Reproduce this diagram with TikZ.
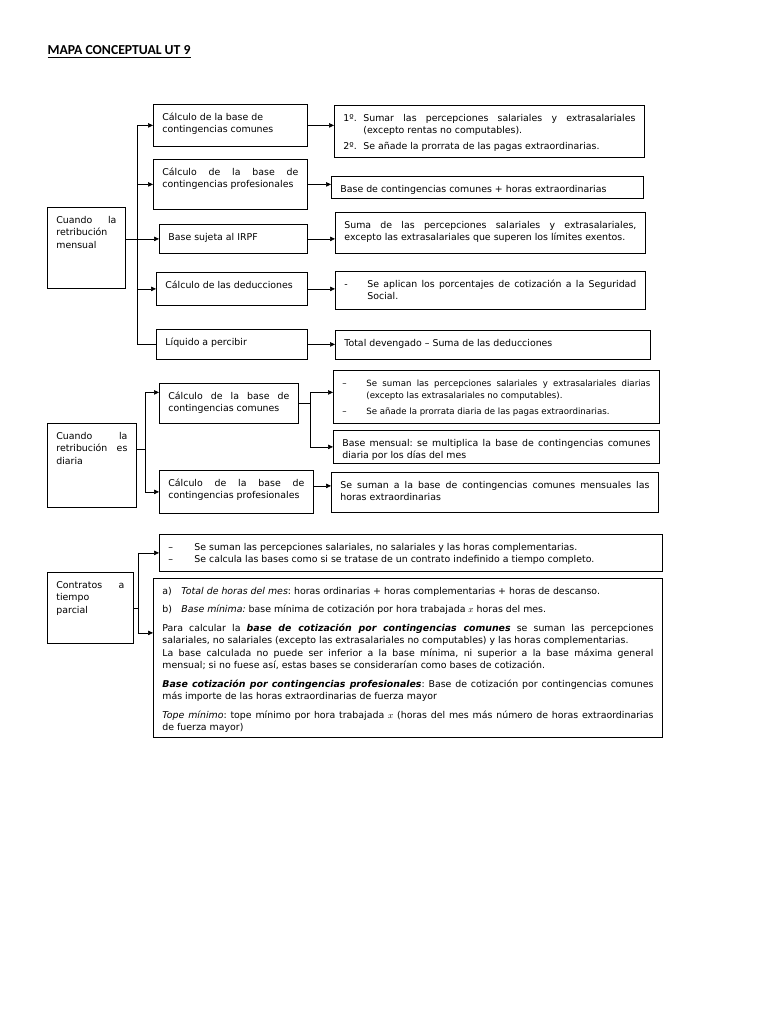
\documentclass[tikz,border=0pt]{standalone}
\usepackage{fontspec}
\usepackage{amsmath}
\setmainfont{DejaVu Sans}
\newfontfamily\titulofont{Carlito}
\usetikzlibrary{arrows.meta}
\tolerance=10000
\hyphenpenalty=10000
\frenchspacing
\newcommand\vineta[3][20pt]{\hangindent=#1\hangafter=1\noindent\makebox[#1][l]{#2}#3\par}

\tikzset{
  caja/.style={draw, line width=0.8pt, anchor=north west, align=justify,
    inner xsep=9pt, inner ysep=4pt, text height=12pt,
    font=\fontsize{9.4}{12.5}\selectfont},
  chica/.style={font=\fontsize{8.6}{12}\selectfont},
  flecha/.style={line width=0.6pt, -{Triangle[length=5pt,width=4.5pt]}},
  linea/.style={line width=0.6pt}
}

\begin{document}
\begin{tikzpicture}[x=1pt, y=-1pt]
    \fill[white] (0,0) rectangle (768,1024);
    \useasboundingbox (0,0) rectangle (768,1024);

    \node[anchor=west, font=\titulofont\bfseries\fontsize{13.7}{16}\selectfont] (titulo) at (44,52) {\underline{MAPA CONCEPTUAL UT 9}};

    % retribucion mensual
    \node[caja, text width=60pt, text depth=61pt] (mensual) at (47,207) {Cuando la retribución mensual};
    \node[caja, text width=136pt, text depth=22pt] (calcCC) at (153,104) {Cálculo de la base de\\contingencias comunes};
    \node[caja, text width=136pt, text depth=30pt] (calcCP) at (153,159) {Cálculo de la base de contingencias profesionales};
    \node[caja, text width=130pt, text depth=9pt] (irpf) at (159,224) {Base sujeta al IRPF};
    \node[caja, text width=133pt, text depth=13pt] (deduc) at (156,272) {Cálculo de las deducciones};
    \node[caja, text width=133pt, text depth=10pt] (liquido) at (156,329) {Líquido a percibir};

    \node[caja, text width=292pt, text depth=32pt] (pasosCC) at (334,105) {\vineta{1º.}{Sumar las percepciones salariales y extrasalariales\linebreak (excepto rentas no computables).}\vspace{3.5pt}\vineta{2º.}{Se añade la prorrata de las pagas extraordinarias.}};
    \node[caja, text width=294pt, text depth=2pt] (sumaCC) at (331,176) {Base de contingencias comunes + horas extraordinarias};
    \node[caja, text width=292pt, text depth=21pt] (sumaIRPF) at (335,212) {Suma de las percepciones salariales y extrasalariales,\linebreak excepto las extrasalariales que superen los límites exentos.};
    \node[caja, text width=292pt, text depth=18pt] (cotiz) at (335,271) {\vineta[23pt]{-}{Se aplican los porcentajes de cotización a la Seguridad Social.}};
    \node[caja, text width=297pt, text depth=9pt] (total) at (335,330) {Total devengado – Suma de las deducciones};

    \coordinate (tronco1) at (137,0);
    \draw[linea] (tronco1 |- calcCC.west) -- (tronco1 |- liquido.west) -- (liquido.west);
    \draw[flecha] (tronco1 |- calcCC.west) -- (calcCC.west);
    \draw[flecha] (tronco1 |- calcCP.west) -- (calcCP.west);
    \draw[flecha] (mensual.east |- irpf.west) -- (irpf.west);
    \draw[flecha] (tronco1 |- deduc.west) -- (deduc.west);

    \draw[flecha] (calcCC.east) -- (calcCC.east -| pasosCC.west);
    \draw[flecha] (calcCP.east) -- (calcCP.east -| sumaCC.west);
    \draw[flecha] (irpf.east) -- (irpf.east -| sumaIRPF.west);
    \draw[flecha] (deduc.east) -- (deduc.east -| cotiz.west);
    \draw[flecha] (liquido.east) -- (liquido.east -| total.west);

    % retribucion diaria
    \node[caja, text width=71pt, text depth=64pt] (diaria) at (47,423) {Cuando la retribución es diaria};
    \node[caja, text width=121pt, text depth=20pt] (dCC) at (159,383) {Cálculo de la base de contingencias comunes};
    \node[caja, text width=136pt, text depth=23pt] (dCP) at (159,470) {Cálculo de la base de contingencias profesionales};

    \node[caja, chica, text width=308pt, text depth=33pt] (dPasos) at (333,370) {\vineta[24pt]{–}{Se suman las percepciones salariales y extrasalariales diarias (excepto las extrasalariales no computables).}\vspace{4pt}\vineta[24pt]{–}{Se añade la prorrata diaria de las pagas extraordinarias.}};
    \node[caja, text width=308pt, text depth=13pt] (dMensual) at (333,430) {Base mensual: se multiplica la base de contingencias comunes diaria por los días del mes};
    \node[caja, text width=309pt, text depth=20pt] (dProf) at (331,472) {Se suman a la base de contingencias comunes mensuales las horas extraordinarias};

    \coordinate (tronco2) at (145,0);
    \coordinate (rama) at (310,0);
    \coordinate (salida2) at ([yshift=16pt]diaria.east);
    \coordinate (entrada2) at ([yshift=11pt]dCC.west);
    \coordinate (salida2b) at ([yshift=6pt]dCP.east);
    \draw[linea] (salida2) -- (salida2 -| tronco2);
    \draw[linea] (entrada2 -| tronco2) -- (tronco2 |- dCP.west);
    \draw[flecha] (entrada2 -| tronco2) -- (entrada2);
    \draw[flecha] (tronco2 |- dCP.west) -- (dCP.west);

    \draw[linea] (dCC.east) -- (rama |- dCC.east);
    \draw[linea] (entrada2 -| rama) -- (rama |- dMensual.west);
    \draw[flecha] (entrada2 -| rama) -- (entrada2 -| dPasos.west);
    \draw[flecha] (rama |- dMensual.west) -- (dMensual.west);
    \draw[flecha] (salida2b) -- (salida2b -| dProf.west);

    % contratos a tiempo parcial
    \node[caja, text width=68pt, text depth=51pt] (parcial) at (47,572) {Contratos a tiempo\\parcial};
    \node[caja, text width=485pt, text depth=17pt] (pRegla) at (159,534) {\vineta[26pt]{–}{Se suman las percepciones salariales, no salariales y las horas complementarias.}\vineta[26pt]{–}{Se calcula las bases como si se tratase de un contrato indefinido a tiempo completo.}};
    \node[caja, text width=491pt, text depth=139pt] (pCalculo) at (153,578) {\vineta[19pt]{a)}{\textit{Total de horas del mes}: horas ordinarias + horas complementarias + horas de descanso.}\vspace{6pt}\vineta[19pt]{b)}{\textit{Base mínima:} base mínima de cotización por hora trabajada $x$ horas del mes.}\vspace{6pt}
    Para calcular la \textbf{\textit{base de cotización por contingencias comunes}} se suman las percepciones\linebreak salariales, no salariales (excepto las extrasalariales no computables) y las horas complementarias.\par
    La base calculada no puede ser inferior a la base mínima, ni superior a la base máxima general\linebreak mensual; si no fuese así, estas bases se considerarían como bases de cotización.\par\vspace{6pt}
    \textbf{\textit{Base cotización por contingencias profesionales}}: Base de cotización por contingencias comunes\linebreak más importe de las horas extraordinarias de fuerza mayor\par\vspace{6pt}
    \textit{Tope mínimo}: tope mínimo por hora trabajada $x$ (horas del mes más número de horas extraordinarias\linebreak de fuerza mayor)};

    \coordinate (tronco3) at (138,0);
    \coordinate (entrada3) at ([yshift=25pt]pCalculo.west);
    \draw[linea] (parcial.east) -- (tronco3 |- parcial.east);
    \draw[linea] (tronco3 |- pRegla.west) -- (tronco3 |- entrada3);
    \draw[flecha] (tronco3 |- pRegla.west) -- (pRegla.west);
    \draw[flecha] (tronco3 |- entrada3) -- (entrada3);
\end{tikzpicture}
\end{document}
